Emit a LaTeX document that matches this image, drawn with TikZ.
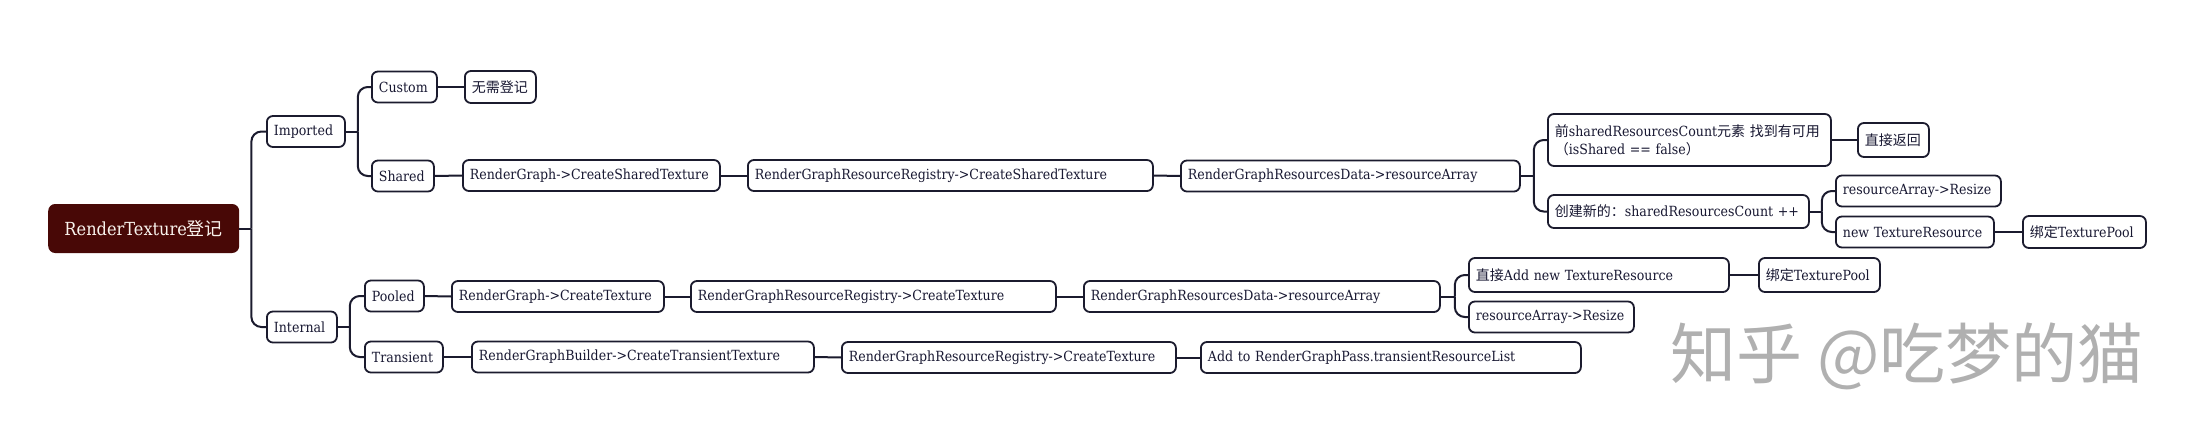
\documentclass[tikz,border=0pt]{standalone}
\usepackage{fontspec}
\setmainfont{DejaVu Serif}[FakeStretch=0.9]
\newfontfamily\cjk{Noto Sans CJK SC}
\definecolor{linecol}{RGB}{27,27,46}
\definecolor{textcol}{RGB}{24,24,50}
\definecolor{rootfill}{RGB}{72,8,6}
\definecolor{roottext}{RGB}{248,242,236}
\definecolor{wmcol}{RGB}{176,176,176}
\newcommand\myzh[1]{{\cjk\fontsize{14}{18}\selectfont #1}}
\newcommand\myzhR[1]{{\cjk\fontsize{18}{22}\selectfont #1}}
\newcommand\oneline[1]{\mbox{#1}}
\tikzset{
  box/.style={draw=linecol, line width=1.8pt, fill=white, rounded corners=6pt,
    text=textcol, inner xsep=7pt, inner ysep=0pt, anchor=west, minimum height=31,
    align=left, font=\fontsize{14}{18}\selectfont},
  w/.code={\pgfmathsetlengthmacro\mytw{#1-14}\tikzset{minimum width=#1, text width=\mytw}},
  rootbox/.style={fill=rootfill, rounded corners=7pt, text=roottext, inner sep=0pt,
    anchor=west, font=\fontsize{18}{22}\selectfont},
  link/.style={draw=linecol, line width=2pt},
  branch/.style={draw=linecol, line width=2pt, rounded corners=10pt},
}
\begin{document}
\begin{tikzpicture}[x=1pt,y=-1pt]
\useasboundingbox (0,0) rectangle (2201,447);
% nodes
\node[rootbox, minimum width=191, minimum height=49] (root) at (48,228.5) {RenderTexture\myzhR{登记}};
\node[box, w=78] (imported) at (266,131.5) {\oneline{Imported}};
\node[box, w=70] (internal) at (266,327) {\oneline{Internal}};
\node[box, w=65] (custom) at (371,87) {\oneline{Custom}};
\node[box, w=71, minimum height=32] (wuxu) at (464,87) {\oneline{\myzh{无需登记}}};
\node[box, w=62] (shared) at (371,176) {\oneline{Shared}};
\node[box, w=257] (rgcst) at (462,175.5) {\oneline{RenderGraph->CreateSharedTexture}};
\node[box, w=405] (rgrrcst) at (747,175.5) {\oneline{RenderGraphResourceRegistry->CreateSharedTexture}};
\node[box, w=339] (rgrdA) at (1180,176) {\oneline{RenderGraphResourcesData->resourceArray}};
\node[box, w=283, minimum height=52] (find) at (1547,140) {\oneline{\myzh{前}sharedResourcesCount\myzh{元素 找到有可用}}\\\oneline{\myzh{（}isShared == false\myzh{）}}};
\node[box, w=71, minimum height=34] (direct) at (1857,140) {\oneline{\myzh{直接返回}}};
\node[box, w=261, minimum height=33] (create) at (1547,211.5) {\oneline{\myzh{创建新的：}sharedResourcesCount ++}};
\node[box, w=165] (resizeA) at (1835,191) {\oneline{resourceArray->Resize}};
\node[box, w=158] (newtex) at (1835,232) {\oneline{new TextureResource}};
\node[box, w=123, minimum height=32] (bindA) at (2022,232) {\oneline{\myzh{绑定}TexturePool}};
\node[box, w=59] (pooled) at (364,296) {\oneline{Pooled}};
\node[box, w=212] (rgct) at (451,296.5) {\oneline{RenderGraph->CreateTexture}};
\node[box, w=365] (rgrrct) at (690,296.5) {\oneline{RenderGraphResourceRegistry->CreateTexture}};
\node[box, w=356] (rgrdB) at (1083,296.5) {\oneline{RenderGraphResourcesData->resourceArray}};
\node[box, w=260, minimum height=34] (addnew) at (1468,275) {\oneline{\myzh{直接}Add new TextureResource}};
\node[box, w=121, minimum height=34] (bindB) at (1758,275) {\oneline{\myzh{绑定}TexturePool}};
\node[box, w=165] (resizeB) at (1468,317) {\oneline{resourceArray->Resize}};
\node[box, w=78] (transient) at (364,357) {\oneline{Transient}};
\node[box, w=342] (rgbct) at (471,357) {\oneline{RenderGraphBuilder->CreateTransientTexture}};
\node[box, w=334] (rgrrctT) at (841,357.5) {\oneline{RenderGraphResourceRegistry->CreateTexture}};
\node[box, w=380] (addto) at (1200,357.5) {\oneline{Add to RenderGraphPass.transientResourceList}};
\node[text=wmcol, inner sep=0pt, font=\cjk\fontsize{66}{66}\selectfont] (wm) at (1907,356) {知乎 @吃梦的猫};
% fork points
\coordinate (fRoot) at ([xshift=12pt]root.east);
\coordinate (fImp) at ([xshift=12pt]imported.east);
\coordinate (fInt) at ([xshift=12pt]internal.east);
\coordinate (fA) at ([xshift=13pt]rgrdA.east);
\coordinate (fCre) at ([xshift=12pt]create.east);
\coordinate (fB) at ([xshift=14pt]rgrdB.east);
% forks
\draw[link] (root.east) -- (fRoot);
\draw[branch] (fRoot) |- (imported.west);
\draw[branch] (fRoot) |- (internal.west);
\draw[link] (imported.east) -- (fImp);
\draw[branch] (fImp) |- (custom.west);
\draw[branch] (fImp) |- (shared.west);
\draw[link] (internal.east) -- (fInt);
\draw[branch] (fInt) |- (pooled.west);
\draw[branch] (fInt) |- (transient.west);
\draw[link] (rgrdA.east) -- (fA);
\draw[branch] (fA) |- (find.west);
\draw[branch] (fA) |- (create.west);
\draw[link] (create.east) -- (fCre);
\draw[branch] (fCre) |- (resizeA.west);
\draw[branch] (fCre) |- (newtex.west);
\draw[link] (rgrdB.east) -- (fB);
\draw[branch] (fB) |- (addnew.west);
\draw[branch] (fB) |- (resizeB.west);
% straight links
\draw[link] (custom.east) -- (wuxu.west);
\draw[link] (shared.east) -- (rgcst.west);
\draw[link] (rgcst.east) -- (rgrrcst.west);
\draw[link] (rgrrcst.east) -- (rgrdA.west);
\draw[link] (find.east) -- (direct.west);
\draw[link] (newtex.east) -- (bindA.west);
\draw[link] (pooled.east) -- (rgct.west);
\draw[link] (rgct.east) -- (rgrrct.west);
\draw[link] (rgrrct.east) -- (rgrdB.west);
\draw[link] (addnew.east) -- (bindB.west);
\draw[link] (transient.east) -- (rgbct.west);
\draw[link] (rgbct.east) -- (rgrrctT.west);
\draw[link] (rgrrctT.east) -- (addto.west);
\end{tikzpicture}
\end{document}
